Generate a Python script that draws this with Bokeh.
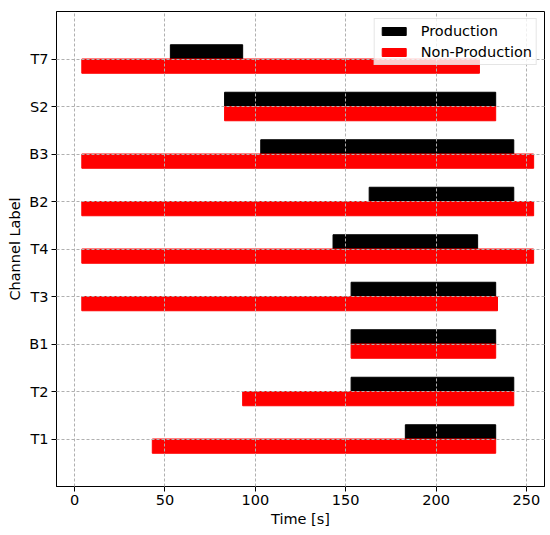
from bokeh.plotting import figure
from bokeh.models import FixedTicker, ColumnDataSource
from bokeh.embed import file_html
from bokeh.resources import INLINE

channels = ["T1", "T2", "B1", "T3", "T4", "B2", "B3", "S2", "T7"]
prod_start = [183, 153, 153, 153, 143, 163, 103, 83, 53]
prod_end = [233, 243, 233, 233, 223, 243, 243, 233, 93]
nonprod_start = [43, 93, 153, 4, 4, 4, 4, 83, 4]
nonprod_end = [233, 243, 233, 234, 254, 254, 254, 233, 224]
x_ticks = [0, 50, 100, 150, 200, 250]

FONT = "DejaVu Sans"
FS = "14.5px"
ypos = list(range(len(channels)))

p = figure(frame_width=488, frame_height=475, min_border_left=56, min_border_right=6,
           min_border_top=11, min_border_bottom=49,
           x_range=(-10, 260), y_range=(-1, len(channels)),
           output_backend="svg", toolbar_location=None)

src_p = ColumnDataSource(dict(y=[v + 0.15 for v in ypos], left=prod_start, right=prod_end))
src_n = ColumnDataSource(dict(y=[v - 0.15 for v in ypos], left=nonprod_start, right=nonprod_end))
p.hbar(y="y", left="left", right="right", height=0.3, source=src_p,
       fill_color="#000000", line_color="#000000", legend_label="Production")
p.hbar(y="y", left="left", right="right", height=0.3, source=src_n,
       fill_color="#ff0000", line_color="#ff0000", legend_label="Non-Production")

p.xaxis.ticker = FixedTicker(ticks=x_ticks)
p.yaxis.ticker = FixedTicker(ticks=ypos)
p.yaxis.major_label_overrides = {i: c for i, c in enumerate(channels)}
p.xaxis.axis_label = "Time [s]"
p.yaxis.axis_label = "Channel Label"

for ax in (p.xaxis[0], p.yaxis[0]):
    ax.axis_label_text_font = FONT
    ax.axis_label_text_font_size = FS
    ax.axis_label_text_font_style = "normal"
    ax.major_label_text_font = FONT
    ax.major_label_text_font_size = FS
    ax.minor_tick_line_color = None
    ax.major_tick_out = 5
    ax.major_tick_in = 0
    ax.axis_line_color = "black"
    ax.major_tick_line_color = "black"
    ax.major_label_text_color = "black"
    ax.axis_label_text_color = "black"
    ax.axis_label_standoff = 3
    ax.major_label_standoff = 3

for g in (p.xgrid[0], p.ygrid[0]):
    g.grid_line_color = "#b0b0b0"
    g.grid_line_dash = "3 2"
    g.grid_line_width = 1
    g.level = "overlay"

p.outline_line_color = "black"
p.outline_line_width = 1
p.outline_line_alpha = 1

lg = p.legend[0]
lg.level = "overlay"
lg.location = "top_right"
lg.label_text_font = FONT
lg.label_text_font_size = FS
lg.label_text_color = "black"
lg.border_line_color = "#cccccc"
lg.border_line_width = 1
lg.background_fill_alpha = 0.8
lg.glyph_width = 30
lg.glyph_height = 10
lg.spacing = 5
lg.padding = 4
lg.margin = 7
lg.label_standoff = 12
lg.label_height = 16

open("out.html", "w").write(file_html(p, INLINE))
